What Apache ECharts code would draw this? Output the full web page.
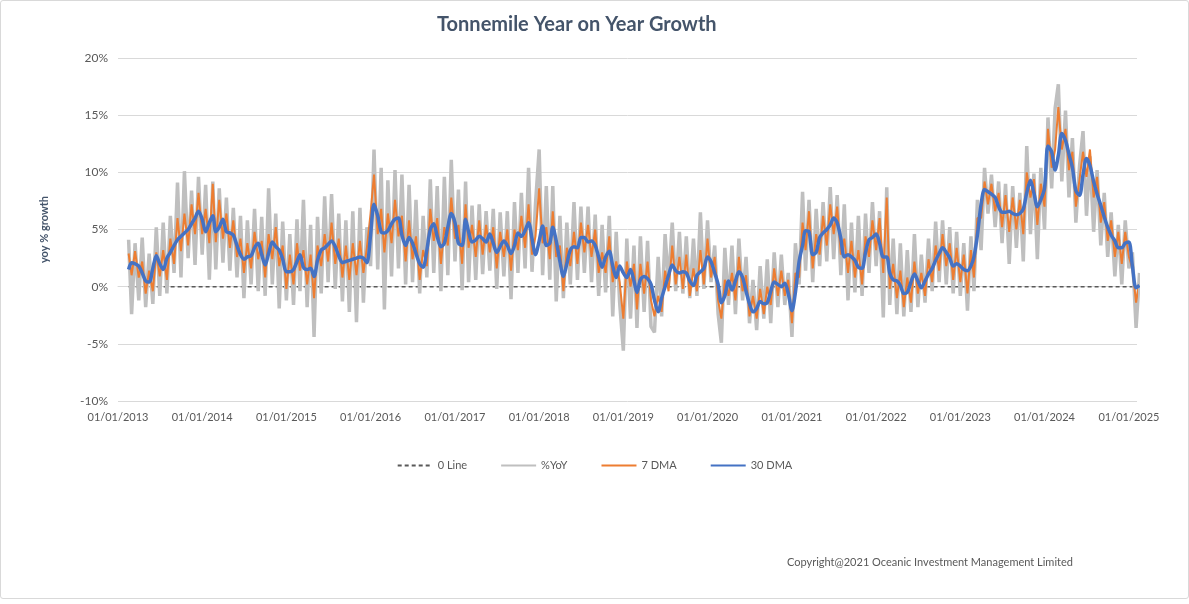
<!DOCTYPE html>
<html>
<head>
<meta charset="utf-8">
<script src="https://cdn.jsdelivr.net/npm/echarts@6/dist/echarts.min.js"></script>
<style>
  html, body { margin: 0; padding: 0; background: #fff; }
  #frame { position: absolute; left: 0; top: 0; width: 1187px; height: 597px; border: 1px solid #d9d9d9; border-radius: 3px; }
  #tonnemile-chart { position: absolute; left: 0; top: 0; width: 1189px; height: 604px; }
</style>
</head>
<body>
<div id="frame"></div>
<div id="tonnemile-chart"></div>
<script>
// semi-monthly readings (1st / 16th of each month), first point = 16 Feb 2013
const firstIndex = 3;

const yoyPct = [
  4.1, -2.4, 3.8, -1.2, 4.3, -1.8, 2.9, -1.5, 5.2, -0.8,
  5.6, -0.6, 6.2, 1.2, 9.1, 0.8, 10.1, 2.5, 8.4, 1.9,
  9.6, 2.8, 8.9, 0.6, 9.2, 1.5, 8.6, 2.1, 7.8, 1.4,
  6.9, 0.8, 6.2, -1.0, 5.8, 0.2, 6.8, -0.4, 6.1, -0.8,
  8.6, 0.2, 6.4, -1.9, 5.7, -1.2, 4.6, -1.6, 5.9, -0.4,
  7.6, -1.8, 5.4, -4.4, 6.1, -0.6, 7.9, 0.4, 8.1, -0.2,
  6.4, -1.3, 5.8, -2.2, 6.6, -3.1, 6.9, -1.4, 5.2, 1.8,
  12.0, 1.5, 10.4, -2.0, 9.3, 0.9, 10.2, 1.6, 9.8, 0.2,
  8.9, 0.4, 7.6, -0.6, 6.2, 0.8, 9.4, 1.2, 8.8, -0.4,
  9.6, 1.0, 11.1, 2.2, 8.5, -0.3, 9.2, 0.4, 7.1, 0.6,
  7.2, 1.1, 6.6, 1.4, 6.8, -0.2, 6.5, 0.9, 6.6, -1.1,
  7.4, 1.2, 8.2, 1.6, 10.4, 1.3, 7.2, 12.0, 1.0, 8.8,
  0.6, 8.8, -1.3, 6.2, -1.0, 5.6, 0.2, 7.4, 0.6, 7.0,
  1.2, 7.0, 0.4, 6.3, -0.8, 5.4, -0.5, 6.2, -2.6, 4.8,
  -1.4, -5.6, 4.2, -2.8, 3.6, -3.6, 4.4, -2.2, 4.0, -3.5,
  -4.0, 2.6, -2.6, 4.6, 0.2, 5.6, -0.4, 4.8, -0.6, 4.4,
  -1.0, 4.2, -0.8, 6.5, -0.2, 5.8, 0.4, 3.6, -2.4, -4.9,
  3.4, -1.6, 3.6, -2.4, 4.2, -1.2, 2.6, -3.2, 0.6, -3.8,
  1.8, -2.8, 2.4, -3.2, 3.0, -1.8, 2.8, -1.6, 1.2, -4.4,
  3.8, 0.2, 8.3, 1.4, 7.6, 0.4, 6.8, 1.8, 7.4, 2.2,
  8.7, 2.4, 8.0, 1.0, 7.2, -1.2, 5.6, -0.5, 6.2, -0.8,
  6.4, 1.2, 7.4, 1.8, 6.6, -2.7, 8.7, -1.6, 4.2, -2.4,
  3.8, -2.6, 3.2, -2.2, 4.6, -1.8, 2.8, -1.4, 4.2, -0.4,
  5.7, 0.4, 5.8, 0.2, 5.2, -0.6, 4.8, -0.8, 3.8, -2.1,
  4.4, -0.4, 7.6, 3.2, 10.4, 6.4, 9.8, 5.2, 9.2, 3.8,
  9.0, 2.0, 8.8, 3.4, 8.2, 2.2, 12.3, 4.6, 9.9, 2.4,
  10.4, 5.0, 14.8, 8.6, 15.6, 17.7, 9.2, 15.4, 7.8, 13.0,
  5.6, 10.6, 13.6, 6.2, 11.4, 4.8, 10.2, 3.6, 8.2, 2.6,
  6.5, 0.9, 5.4, 0.2, 5.8, 1.6, 3.0, -3.6, 1.2
];

const dma7 = [
  2.9, 1.0, 3.1, 0.8, 2.2, -0.6, 1.4, -0.4, 3.0, 0.9,
  3.2, 0.6, 4.2, 2.0, 6.0, 3.1, 6.4, 3.6, 7.2, 4.6,
  8.2, 4.6, 6.8, 3.8, 9.0, 3.9, 7.6, 4.2, 6.4, 3.4,
  5.8, 2.6, 4.2, 1.2, 3.8, 1.6, 4.8, 2.4, 4.0, 0.8,
  4.6, 2.4, 5.2, 1.8, 3.6, -0.2, 2.8, 0.2, 3.8, 1.4,
  3.2, 0.2, 2.8, -1.0, 3.6, 1.8, 4.6, 2.2, 5.6, 2.0,
  4.2, 0.8, 3.6, 0.6, 3.8, 1.0, 4.0, 1.2, 3.4, 6.4,
  9.8, 4.6, 6.8, 3.0, 6.4, 3.8, 7.6, 4.4, 6.2, 2.2,
  5.8, 2.4, 4.4, 0.6, 3.2, 1.8, 6.8, 4.0, 6.0, 2.0,
  5.2, 3.6, 7.8, 4.2, 5.4, 2.0, 7.2, 3.4, 5.4, 2.6,
  5.8, 2.8, 5.4, 3.0, 5.2, 1.6, 4.8, 2.6, 5.0, 1.4,
  5.0, 3.2, 6.2, 3.4, 7.2, 2.8, 4.4, 8.6, 3.8, 5.2,
  2.4, 6.6, 2.6, 3.6, -0.4, 3.4, 1.8, 4.8, 2.0, 5.6,
  3.0, 5.4, 2.6, 5.0, 1.2, 3.0, 1.2, 4.4, 0.4, 2.2,
  0.4, -2.8, 2.2, 0.0, 2.0, -2.0, 2.0, -0.6, 2.2, -1.2,
  -2.6, -0.8, -2.2, 1.4, -0.4, 3.6, 0.2, 2.6, -0.2, 2.8,
  -0.8, 1.6, -0.4, 3.2, 0.2, 4.2, 0.8, 2.6, -1.2, -2.8,
  0.6, -0.8, 1.2, -1.2, 2.6, -0.4, 1.0, -2.6, -0.8, -2.8,
  -0.2, -2.4, 0.0, -1.6, 1.6, -0.8, 1.4, -0.8, 0.6, -3.2,
  1.2, 0.8, 5.6, 3.2, 6.6, 1.6, 4.6, 2.8, 6.2, 3.6,
  7.2, 4.6, 7.0, 2.8, 4.2, 1.2, 4.0, 0.8, 3.2, 0.2,
  4.4, 2.6, 5.8, 3.2, 6.0, 1.2, 7.8, -0.2, 2.0, -1.0,
  1.4, -1.8, 0.8, -1.4, 2.2, -0.6, 1.2, -0.8, 2.4, 0.4,
  3.6, 1.4, 4.6, 1.8, 3.8, 0.6, 3.4, 0.4, 2.8, -0.6,
  3.2, 0.8, 6.0, 6.0, 9.2, 7.2, 9.0, 6.6, 8.2, 5.2,
  8.0, 4.8, 7.8, 5.0, 7.6, 4.6, 10.0, 7.8, 9.4, 5.4,
  9.0, 7.0, 13.8, 10.4, 12.0, 15.7, 12.0, 13.8, 10.2, 11.8,
  7.0, 9.4, 11.8, 9.6, 12.0, 7.8, 9.6, 5.6, 7.4, 4.0,
  5.8, 2.6, 4.8, 2.0, 4.8, 2.6, 1.6, -1.4, 0.6
];

const dma30 = [
  1.5, 2.1, 2.0, 1.8, 1.2, 0.5, 0.4, 1.6, 2.7, 2.0,
  1.5, 2.5, 3.0, 3.6, 4.1, 4.4, 4.7, 5.0, 5.5, 6.0,
  6.6, 5.9, 4.8, 5.6, 6.2, 4.8, 5.2, 5.9, 4.8, 4.7,
  4.5, 3.6, 2.8, 2.4, 2.6, 2.7, 3.4, 3.8, 2.8, 1.9,
  2.9, 3.9, 3.5, 3.2, 2.4, 1.3, 1.3, 1.5, 2.2, 2.8,
  1.7, 1.5, 1.6, 0.9, 2.3, 3.2, 3.4, 3.7, 4.0, 3.5,
  2.7, 2.1, 2.2, 2.3, 2.4, 2.5, 2.6, 2.5, 2.1, 4.5,
  7.2, 6.2, 4.8, 4.7, 4.9, 5.5, 5.9, 6.0, 4.5, 3.6,
  4.3, 3.8, 2.9, 2.0, 1.7, 3.2, 5.0, 5.5, 4.4, 3.5,
  3.8, 5.2, 6.4, 5.6, 3.8, 3.6, 5.9, 4.8, 3.9, 4.1,
  4.4, 4.2, 3.9, 4.6, 3.8, 3.0, 3.5, 4.0, 3.6, 2.9,
  3.6, 4.7, 4.4, 4.9, 5.6, 4.2, 2.8, 4.0, 5.3, 3.6,
  3.8, 5.2, 4.0, 2.2, 0.9, 2.0, 3.2, 3.5, 3.4, 4.3,
  4.3, 3.9, 4.0, 3.6, 2.6, 1.7, 2.6, 3.1, 1.8, 0.8,
  1.8, 1.2, 0.8, 1.5, 0.5, -0.5, 0.6, 0.9, 0.7, 0.2,
  -1.2, -2.2, -1.0, 0.0, 1.0, 1.9, 1.4, 1.2, 1.3, 1.2,
  0.5, 0.1, 1.0, 1.3, 1.6, 2.6, 2.2, 1.2, 0.2, -1.4,
  -0.8, 0.5, -0.3, 0.5, 1.3, 0.8, -0.4, -1.5, -2.2, -1.9,
  -1.3, -1.5, -1.4, -0.4, 0.4, 0.2, 0.0, 0.3, -0.6, -2.1,
  -0.5, 2.2, 3.6, 4.9, 4.8, 2.8, 3.0, 4.3, 4.7, 5.0,
  5.4, 6.0, 5.6, 4.2, 2.6, 2.8, 2.6, 2.3, 1.7, 1.6,
  3.0, 4.1, 4.3, 4.6, 3.8, 2.6, 2.6, 1.2, 0.6, 0.5,
  0.1, -0.6, -0.5, 0.4, 1.1, 0.5, -0.1, 0.5, 1.1, 1.6,
  2.3, 2.9, 3.4, 3.0, 2.5, 1.8, 2.0, 1.8, 1.5, 1.4,
  1.8, 2.6, 4.5, 7.2, 8.5, 8.3, 8.1, 7.8, 7.0, 6.5,
  6.5, 6.6, 6.4, 6.3, 6.4, 6.8, 8.2, 9.3, 8.2, 7.0,
  7.6, 8.6, 12.3, 11.8, 10.2, 11.5, 13.4, 12.8, 11.6, 10.4,
  8.4, 8.0, 9.8, 11.2, 10.6, 9.2, 8.1, 7.1, 6.1, 5.2,
  4.5, 4.0, 3.4, 3.4, 3.8, 3.9, 1.8, -0.1, 0.1
];

const zeroLine = [0, 0];
const yearLabels = [2013, 2014, 2015, 2016, 2017, 2018, 2019, 2020, 2021, 2022, 2023, 2024, 2025];

function dateAt(k) {
  // even index -> 1st of month, odd -> 16th
  return k % 2 === 0
    ? new Date(2013, k / 2, 1).getTime()
    : new Date(2013, (k - 1) / 2, 16).getTime();
}

function toPairs(values) {
  return values.map((v, i) => [dateAt(firstIndex + i), v]);
}

const lastIdx = firstIndex + dma30.length - 1;
const zeroData = [[dateAt(firstIndex), zeroLine[0]], [dateAt(lastIdx), zeroLine[1]]];

const fontFam = 'Lato, "Open Sans", sans-serif';
const mychart = echarts.init(document.getElementById('tonnemile-chart'));

const option = {
  animation: false,
  backgroundColor: 'transparent',
  textStyle: { fontFamily: fontFam },
  title: {
    text: 'Tonnemile Year on Year Growth',
    left: 432,
    top: 10,
    textStyle: { fontFamily: fontFam, fontSize: 20, fontWeight: 'bold', color: '#44546A' }
  },
  legend: {
    top: 455,
    left: 'center',
    itemWidth: 35,
    itemHeight: 4,
    itemGap: 33,
    itemStyle: { opacity: 0 },
    textStyle: { fontFamily: fontFam, fontSize: 11, color: '#595959' },
    data: ['0 Line', '%YoY', '7 DMA', '30 DMA']
  },
  grid: { left: 118, right: 52, top: 58, bottom: 203 },
  xAxis: {
    type: 'value',
    min: new Date(2013, 0, 1).getTime(),
    max: new Date(2025, 1, 5).getTime(),
    axisLine: { show: true, lineStyle: { color: '#d9d9d9', width: 1 } },
    axisTick: { show: false },
    splitLine: { show: false },
    axisLabel: {
      customValues: yearLabels.map(y => new Date(y, 0, 1).getTime()),
      formatter: v => '01/01/' + new Date(v).getFullYear(),
      color: '#595959',
      fontSize: 11,
      margin: 11
    }
  },
  yAxis: {
    type: 'value',
    min: -10,
    max: 20,
    interval: 5,
    name: 'yoy % growth',
    nameLocation: 'middle',
    nameGap: 68,
    nameTextStyle: { fontFamily: fontFam, fontSize: 11, fontWeight: 'bold', color: '#44546A' },
    axisLine: { show: false },
    axisTick: { show: false },
    splitLine: { lineStyle: { color: '#d9d9d9', width: 1 } },
    axisLabel: { formatter: '{value}%', color: '#595959', fontSize: 12, margin: 10 }
  },
  graphic: [{
    type: 'text',
    left: 787,
    top: 557,
    style: {
      text: 'Copyright@2021 Oceanic Investment Management Limited',
      fill: '#595959',
      font: '11px ' + fontFam
    }
  }],
  series: [
    {
      name: '0 Line',
      type: 'line',
      data: zeroData,
      symbol: 'none',
      color: '#595959',
      lineStyle: { color: '#595959', width: 1.5, type: [4, 3] },
      z: 1
    },
    {
      name: '%YoY',
      type: 'line',
      data: toPairs(yoyPct),
      symbol: 'none',
      color: '#bfbfbf',
      lineStyle: { color: '#bfbfbf', width: 3.5 },
      z: 2
    },
    {
      name: '7 DMA',
      type: 'line',
      data: toPairs(dma7),
      symbol: 'none',
      color: '#ed7d31',
      lineStyle: { color: '#ed7d31', width: 2 },
      z: 3
    },
    {
      name: '30 DMA',
      type: 'line',
      data: toPairs(dma30),
      symbol: 'none',
      smooth: 0.3,
      color: '#4472c4',
      lineStyle: { color: '#4472c4', width: 3.5 },
      z: 4
    }
  ]
};

mychart.setOption(option);
window.onresize = mychart.resize;
</script>
</body>
</html>
